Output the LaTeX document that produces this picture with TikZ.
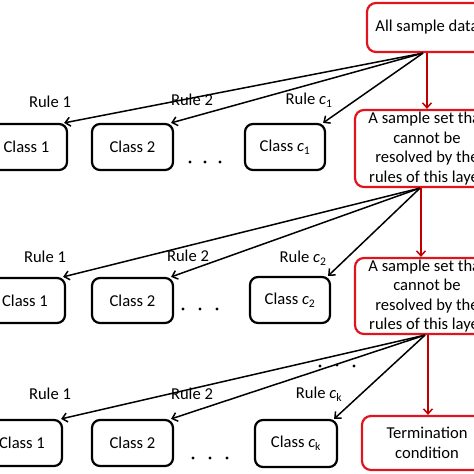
\documentclass[tikz,border=0pt]{standalone}
\usepackage{fontspec}
\setmainfont{Carlito}
\usetikzlibrary{arrows.meta,calc}
\definecolor{boxred}{RGB}{225,20,30}
\definecolor{arrred}{RGB}{192,0,0}
\begin{document}
\begin{tikzpicture}[x=1pt,y=-1pt,
  font=\fontsize{16.6}{19.5}\selectfont,
  classbox/.style={draw=black,line width=2.2pt,rounded corners=8pt,minimum height=46pt,minimum width=81pt,inner sep=0pt},
  redbox/.style={draw=boxred,line width=2.2pt,rounded corners=9pt,inner sep=0pt,align=center},
  rulearrow/.style={draw=black,line width=1.5pt,-{Straight Barb[length=5pt,width=9pt]}},
  redarrow/.style={draw=arrred,line width=1.5pt,-{Straight Barb[length=5pt,width=9pt]}},
  rulelabel/.style={inner sep=0pt},
  dotmark/.style={fill=black,circle,inner sep=0pt,minimum size=3.2pt}]
\useasboundingbox (0,0) rectangle (474,474);
% red chain
\node[redbox,minimum width=120pt,minimum height=49pt] (A) at (427,27.5) {All sample data};
\node[redbox,minimum width=144pt,minimum height=77pt] (B) at (427,148.5) {A sample set that\\cannot be\\resolved by the\\rules of this layer};
\node[redbox,minimum width=144pt,minimum height=76pt] (C) at (427,296) {A sample set that\\cannot be\\resolved by the\\rules of this layer};
\node[redbox,minimum width=130pt,minimum height=54pt] (D) at (427,443) {Termination\\condition};
% row 1
\node[classbox] (r1a) at (26.5,147) {Class 1};
\node[classbox] (r1b) at (132.5,147) {Class 2};
\node[classbox,minimum width=80pt] (r1c) at (285,147) {Class \textit{c}\textsubscript{1}};
% row 2
\node[classbox,minimum width=80pt,minimum height=45pt] (r2a) at (25,300.5) {Class 1};
\node[classbox,minimum height=45pt] (r2b) at (132.5,300.5) {Class 2};
\node[classbox,minimum width=80pt,minimum height=46pt] (r2c) at (290,300) {Class \textit{c}\textsubscript{2}};
% row 3
\node[classbox,minimum width=80pt] (r3a) at (22,443) {Class 1};
\node[classbox] (r3b) at (132.5,443) {Class 2};
\node[classbox,minimum width=82pt,minimum height=47pt] (r3c) at (296,443.5) {Class \textit{c}\textsubscript{k}};
% red arrows
\draw[redarrow] (A.south) -- (B.north);
\draw[redarrow] ($(B.south)+(-6,0)$) -- ($(C.north)+(-6,0)$);
\draw[redarrow] ($(C.south)+(1,0)$) -- ($(D.north)+(1,0)$);
% fans
\draw[rulearrow] ($(A.south)+(-4,0)$) -- ($(r1a.north east)+(-4,0)$);
\draw[rulearrow] ($(A.south)+(-4,0)$) -- ($(r1b.north east)+(-3,0)$);
\draw[rulearrow] ($(A.south)+(-4,0)$) -- ($(r1c.north east)+(-3,0)$);
\draw[rulearrow] ($(B.south)+(-7,0)$) -- ($(r2a.north east)+(-3,0)$);
\draw[rulearrow] ($(B.south)+(-7,0)$) -- ($(r2b.north east)+(-3,0)$);
\draw[rulearrow] ($(B.south)+(-7,0)$) -- ($(r2c.north east)+(-3,0)$);
\draw[rulearrow] ($(C.south)+(-2,0)$) -- ($(r3a.north east)+(-2,0)$);
\draw[rulearrow] ($(C.south)+(-2,0)$) -- ($(r3b.north east)+(-3,0)$);
\draw[rulearrow] ($(C.south)+(-2,0)$) -- ($(r3c.north east)+(-4,0)$);
% labels
\node[rulelabel] (l11) at (50,102) {Rule 1};
\node[rulelabel] (l12) at (192,100) {Rule 2};
\node[rulelabel] (l13) at (309,100) {Rule \textit{c}\textsubscript{1}};
\node[rulelabel] (l21) at (45,257) {Rule 1};
\node[rulelabel] (l22) at (188,256) {Rule 2};
\node[rulelabel] (l23) at (303,258) {Rule \textit{c}\textsubscript{2}};
\node[rulelabel] (l31) at (50,394) {Rule 1};
\node[rulelabel] (l32) at (192,394) {Rule 2};
\node[rulelabel] (l33) at (319,394) {Rule \textit{c}\textsubscript{k}};
% dots
\node[dotmark] (d11) at (190,162) {};
\node[dotmark] (d12) at (205,162) {};
\node[dotmark] (d13) at (220,162) {};
\node[dotmark] (d21) at (183,309) {};
\node[dotmark] (d22) at (200,309) {};
\node[dotmark] (d23) at (217,309) {};
\node[dotmark] (d31) at (193,458) {};
\node[dotmark] (d32) at (210,458) {};
\node[dotmark] (d33) at (227,458) {};
\node[dotmark] (d41) at (320,366) {};
\node[dotmark] (d42) at (337,365) {};
\node[dotmark] (d43) at (354,366) {};
\end{tikzpicture}
\end{document}
